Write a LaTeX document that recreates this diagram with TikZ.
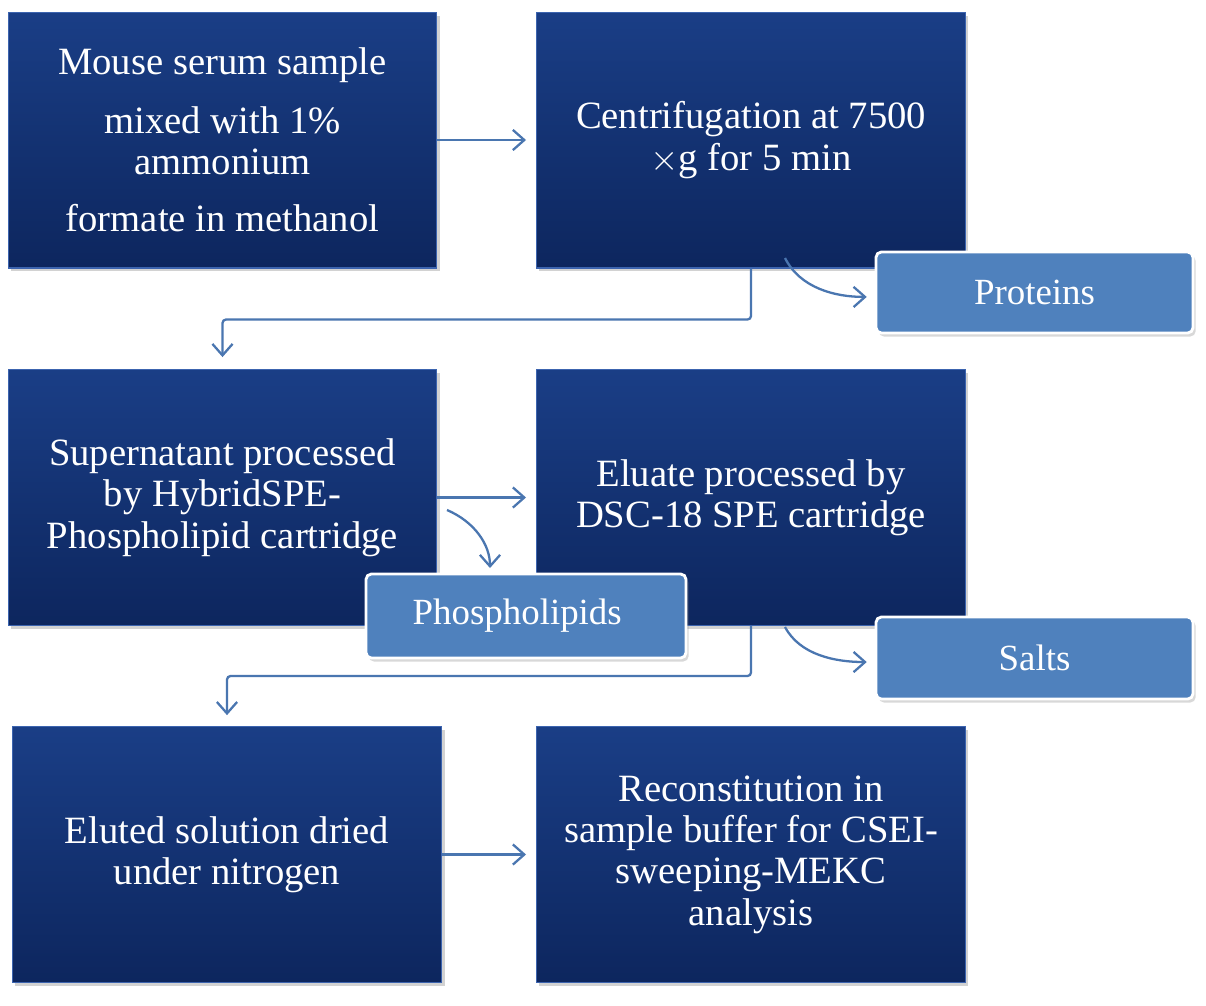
\documentclass[tikz,border=0pt]{standalone}
\usepackage{fontspec}
\setmainfont{Liberation Serif}
\usetikzlibrary{arrows.meta,shadows,calc}
\definecolor{arrc}{RGB}{74,118,176}
\definecolor{smallc}{RGB}{79,129,189}
\definecolor{navtop}{RGB}{26,62,134}
\definecolor{navbot}{RGB}{13,38,94}
\definecolor{navedge}{RGB}{60,100,175}
\begin{document}
\begin{tikzpicture}[x=0.02cm,y=-0.02cm,
  bigbox/.style={rectangle, minimum width=8.58cm, minimum height=5.12cm, inner sep=0pt,
    top color=navtop, bottom color=navbot, draw=navedge, line width=0.6pt,
    text=white, align=center, font=\fontsize{22}{23.5}\selectfont,
    drop shadow={opacity=0.35, shadow xshift=1.5pt, shadow yshift=-2pt}},
  smallbox/.style={rectangle, rounded corners=3pt, fill=smallc, draw=white, line width=1.6pt,
    text=white, font=\fontsize{21}{23}\selectfont, inner sep=0pt,
    minimum width=6.34cm, minimum height=1.62cm,
    drop shadow={opacity=0.3, shadow xshift=1.5pt, shadow yshift=-2pt}},
  arr/.style={draw=arrc, line width=1.3pt, -{Straight Barb[length=6.5pt,width=11.5pt]}}]
\useasboundingbox[fill=white] (0,0) rectangle (1206,1005);

\node[bigbox] (b1) at (222.5,140) {Mouse serum sample\\[9.6pt]mixed with 1\%\\ammonium\\[9pt]formate in methanol};
\node[bigbox] (b2) at (751,140) {Centrifugation at 7500\\$\times$g for 5 min};
\node[bigbox] (b3) at (222.5,497.5) {Supernatant processed\\by HybridSPE-\\Phospholipid cartridge};
\node[bigbox] (b4) at (751,497.5) {Eluate processed by\\DSC-18 SPE cartridge};
\node[bigbox, minimum width=8.6cm] (b5) at (227,854.5) {Eluted solution dried\\under nitrogen};
\node[bigbox] (b6) at (751,854.5) {Reconstitution in\\sample buffer for CSEI-\\sweeping-MEKC\\analysis};

\draw[arr] (b1.east) -- ([xshift=-5.7pt]b2.west);
\draw[arr] (b3.east) -- ([xshift=-5.7pt]b4.west);
\draw[arr] (b5.east) -- ([xshift=-5.7pt]b6.west);
\draw[arr, rounded corners=2pt] (b2.south) -- ++(0,51) -| ([yshift=6.8pt]b3.north);
\draw[arr, rounded corners=2pt] (b4.south) -- ++(0,50) -| ([yshift=6.2pt]b5.north);

\node[smallbox] (prot) at (1034.5,292.5) {Proteins};
\node[smallbox, minimum width=6.4cm, minimum height=1.68cm] (phos) at (526,616) {\hspace*{-10pt}Phospholipids};
\node[smallbox, minimum height=1.64cm] (salts) at (1034.5,658) {Salts};

\coordinate (ps) at (785,258);
\coordinate (qs) at (447,510);
\coordinate (qe) at (490,568);
\coordinate (ss) at (785,627);
\draw[arr] (ps) .. controls (800,288) and (835,297) .. ([xshift=-4.5pt,yshift=-2.5pt]prot.west);
\draw[arr] (qs) .. controls (475,522) and (490,545) .. (qe);
\draw[arr] (ss) .. controls (800,655) and (835,662) .. ([xshift=-4.5pt,yshift=-2.3pt]salts.west);
\end{tikzpicture}
\end{document}
